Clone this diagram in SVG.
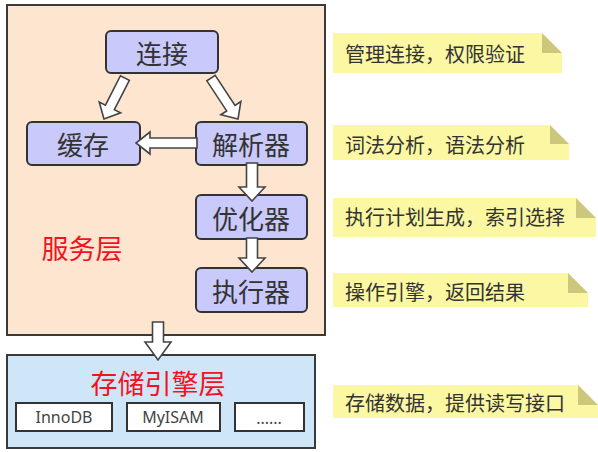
<svg xmlns="http://www.w3.org/2000/svg" width="598" height="452" viewBox="0 0 598 452">
<style>
.layer{stroke:#3a3a3a;stroke-width:2}
.node rect{fill:#c9c9fb;stroke:#333;stroke-width:2}
.node text{font-family:"Noto Sans CJK SC","Noto Sans",sans-serif;font-size:26px;fill:#333;text-anchor:middle;dominant-baseline:central}
.red{font-family:"Noto Sans CJK SC","Noto Sans",sans-serif;font-size:27px;fill:#f0141e;text-anchor:middle;dominant-baseline:central}
.eng rect{fill:#fff;stroke:#333;stroke-width:2}
.eng text{font-family:"Noto Sans","Noto Sans CJK SC",sans-serif;font-size:16px;fill:#444;text-anchor:middle;dominant-baseline:central}
.note .body{fill:#fbf7a2}
.note .fold{fill:#cdc77e}
.note text{font-family:"Noto Sans CJK SC","Noto Sans",sans-serif;font-size:20px;fill:#333;dominant-baseline:central}
.arrow{fill:#fff;stroke:#444;stroke-width:1.6;stroke-linejoin:miter}
</style>
<defs>
<path id="arr" d="M0,-5 H-13 V-12 L0,0 L-13,12 V5 Z"/>
</defs>
<rect width="598" height="452" fill="#fff"/>
<g id="service-layer">
<rect class="layer" x="7" y="5" width="318" height="330" fill="#fde5cf"/>
<text class="red" x="82" y="247">服务层</text>
</g>
<g id="storage-layer">
<rect class="layer" x="7" y="355" width="308" height="93" fill="#cfe5f8"/>
<text class="red" x="158" y="382">存储引擎层</text>
</g>
<g id="node-connect" class="node"><rect x="106" y="31" width="112" height="42" rx="5"/><text x="162" y="52">连接</text></g>
<g id="node-cache" class="node"><rect x="27" y="122" width="113" height="43" rx="5"/><text x="83" y="143">缓存</text></g>
<g id="node-parser" class="node"><rect x="196" y="122" width="111" height="43" rx="5"/><text x="251" y="143">解析器</text></g>
<g id="node-optimizer" class="node"><rect x="196" y="195" width="111" height="44" rx="5"/><text x="251" y="217">优化器</text></g>
<g id="node-executor" class="node"><rect x="196" y="268" width="111" height="44" rx="5"/><text x="251" y="290">执行器</text></g>
<g id="engine-innodb" class="eng"><rect x="16" y="403" width="96" height="28"/><text x="64" y="417">InnoDB</text></g>
<g id="engine-myisam" class="eng"><rect x="127" y="403" width="93" height="28"/><text x="173" y="417">MyISAM</text></g>
<g id="engine-more" class="eng"><rect x="235" y="403" width="69" height="28"/><text x="269" y="418">......</text></g>
<g id="connectors">
<path class="arrow" d="M-46,-5 H-13 V-12 L0,0 L-13,12 V5 H-46 Z" transform="translate(104,119) rotate(117)"/>
<path class="arrow" d="M-49,-5 H-13 V-12 L0,0 L-13,12 V5 H-49 Z" transform="translate(238,119) rotate(56.6)"/>
<path class="arrow" d="M-61,-5 H-14 V-11 L0,0 L-14,11 V5 H-61 Z" transform="translate(136,143) rotate(180)"/>
<path class="arrow" d="M-38,-5.5 H-14 V-13 L0,0 L-14,13 V5.5 H-38 Z" transform="translate(252,201) rotate(90)"/>
<path class="arrow" d="M-34,-5.5 H-14 V-13 L0,0 L-14,13 V5.5 H-34 Z" transform="translate(252,272) rotate(90)"/>
<path class="arrow" d="M-38,-5.5 H-18 V-13 L0,0 L-18,13 V5.5 H-38 Z" transform="translate(158,360) rotate(90)"/>
</g>
<g id="note-1" class="note"><polygon class="body" points="333,33 542,33 562,53 562,73 333,73"/><polygon class="fold" points="542,33 562,53 542,53"/><text x="345" y="53">管理连接，权限验证</text></g>
<g id="note-2" class="note"><polygon class="body" points="333,125 550,125 569,144 569,160 333,160"/><polygon class="fold" points="550,125 569,144 550,144"/><text x="345" y="144">词法分析，语法分析</text></g>
<g id="note-3" class="note"><polygon class="body" points="333,198 576,198 596,218 596,237 333,237"/><polygon class="fold" points="576,198 596,218 576,218"/><text x="345" y="216">执行计划生成，索引选择</text></g>
<g id="note-4" class="note"><polygon class="body" points="333,273 568,273 588,293 588,307 333,307"/><polygon class="fold" points="568,273 588,293 568,293"/><text x="345" y="291">操作引擎，返回结果</text></g>
<g id="note-5" class="note"><polygon class="body" points="333,385 578,385 598,405 598,418 333,418"/><polygon class="fold" points="578,385 598,405 578,405"/><text x="345" y="402">存储数据，提供读写接口</text></g>
</svg>
